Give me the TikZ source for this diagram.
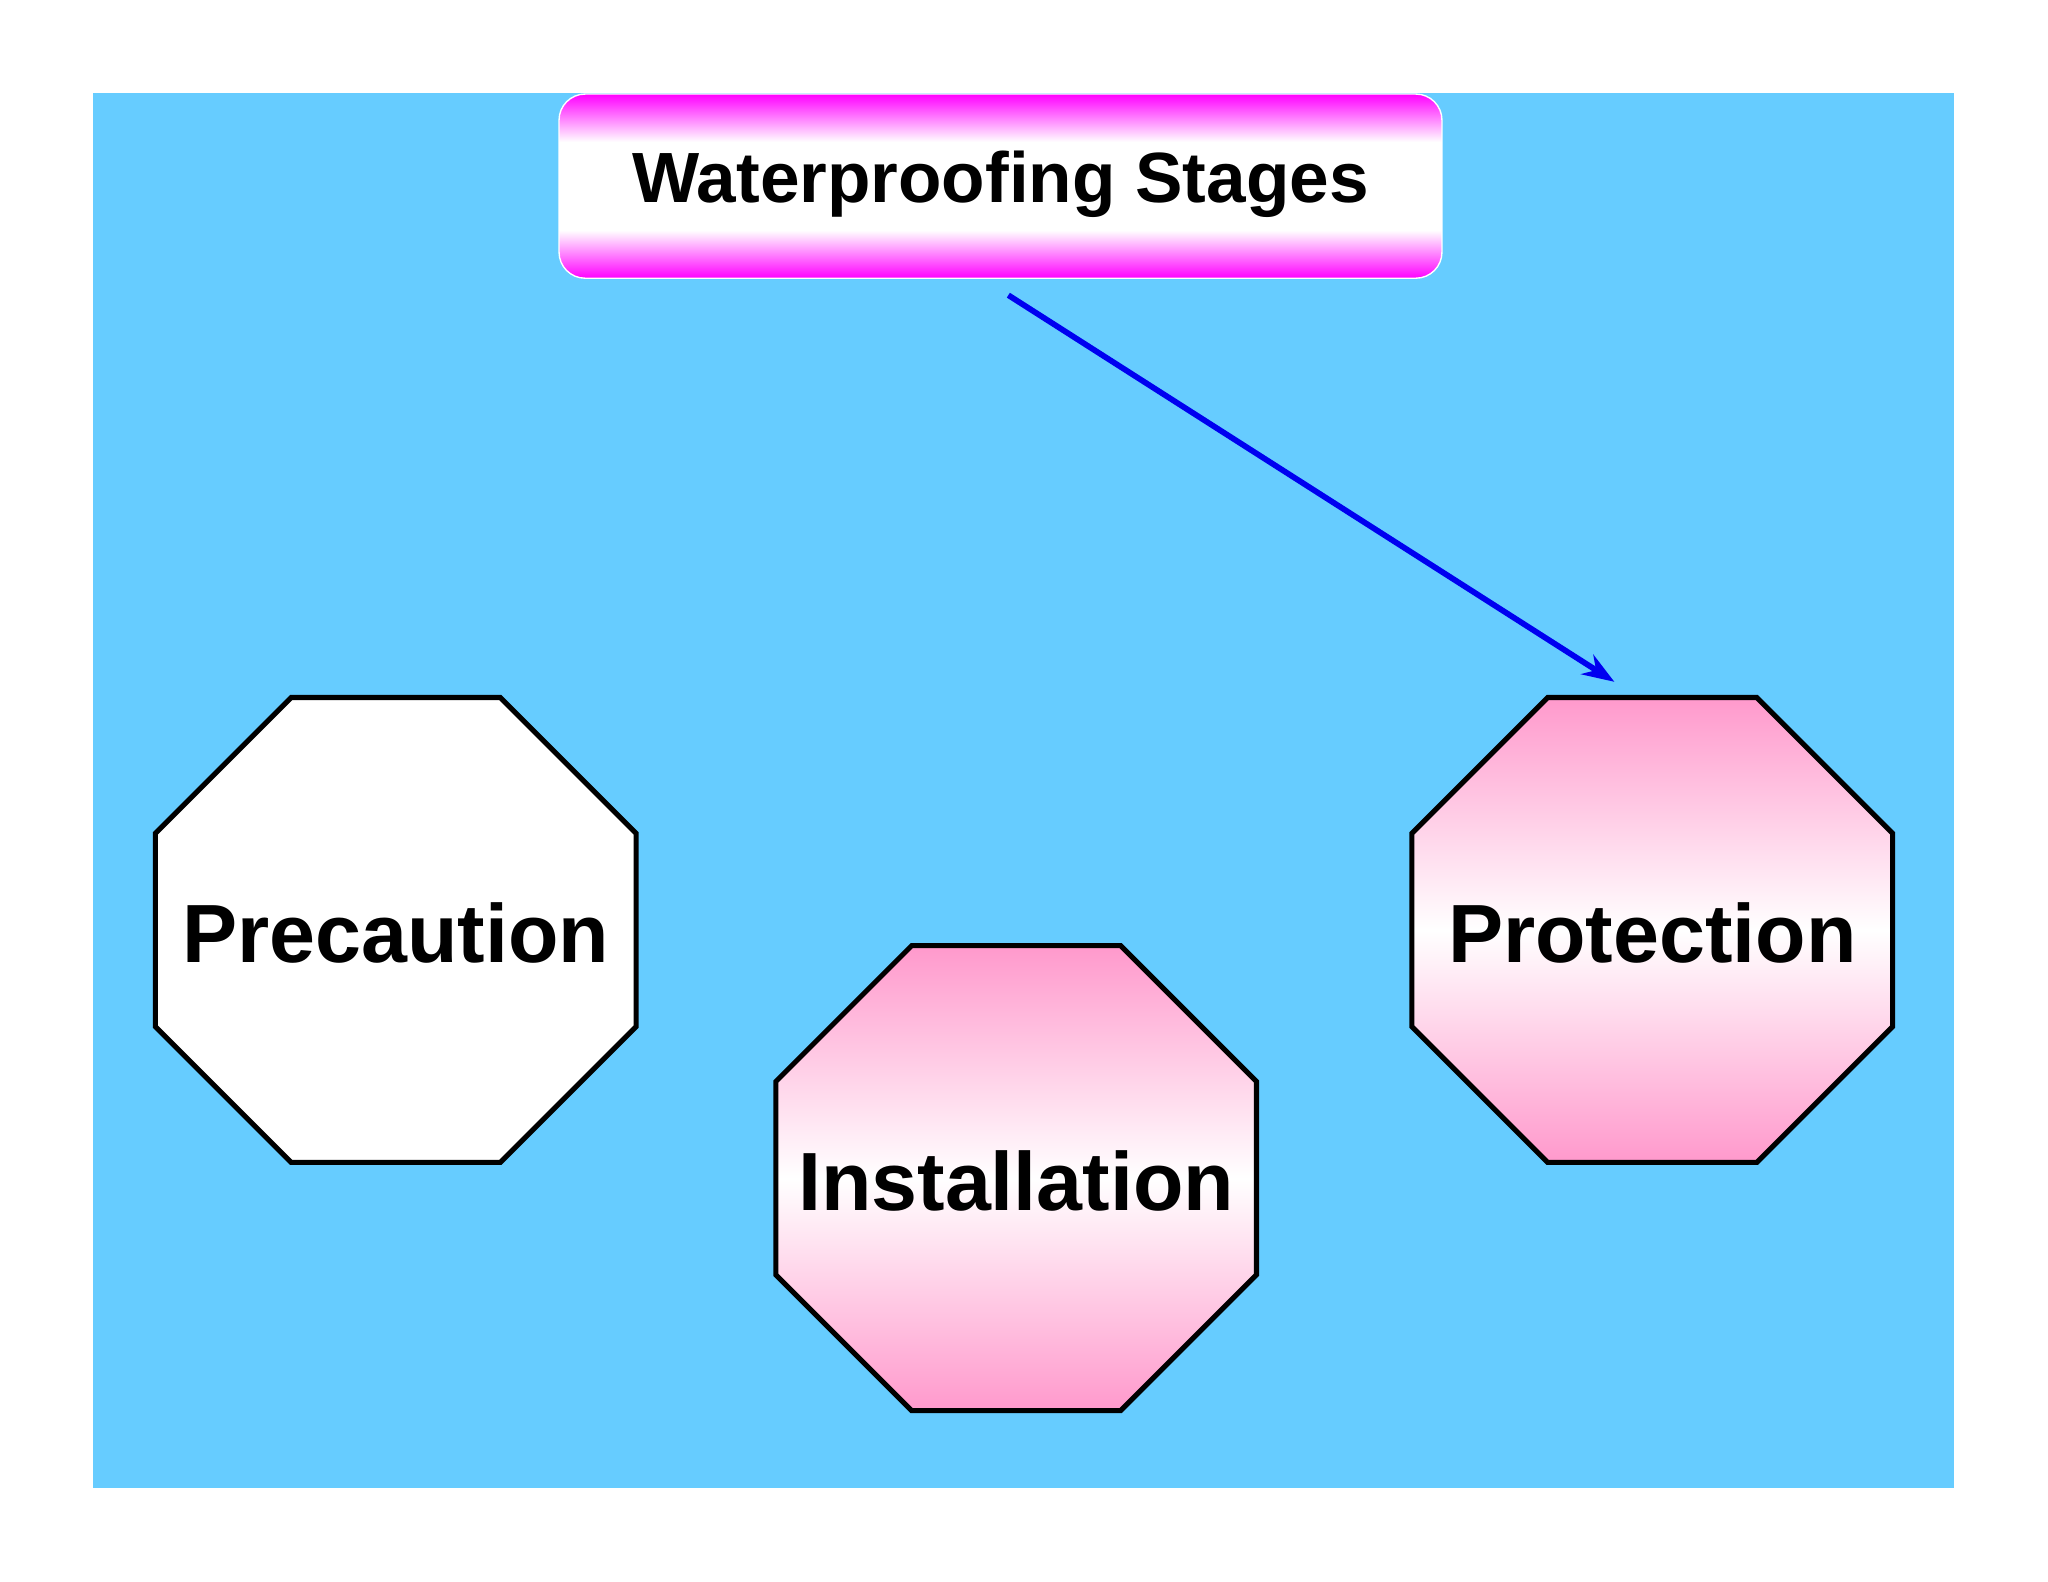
\documentclass[tikz,border=0pt]{standalone}
\usepackage{fontspec}
\setmainfont{Liberation Sans}
\usetikzlibrary{arrows.meta}
\definecolor{bgblue}{RGB}{102,204,255}
\definecolor{pinkc}{RGB}{255,153,204}
\definecolor{mag}{RGB}{255,0,255}
\definecolor{arrblue}{RGB}{0,0,240}
\pgfdeclareverticalshading{titleshade}{100bp}{color(0bp)=(mag); color(25bp)=(mag); color(38bp)=(white); color(62bp)=(white); color(75bp)=(mag); color(100bp)=(mag)}
\begin{document}
\begin{tikzpicture}[x=0.02cm,y=-0.02cm,
  octo/.style={draw=black,line width=2.2pt,line join=miter},
  pinkshade/.style={top color=pinkc,bottom color=pinkc,middle color=white},
  lbl/.style={font=\fontsize{36}{40}\selectfont\bfseries},
  titlebox/.style={draw=white,line width=0.6pt,rounded corners=0.4cm,shading=titleshade,minimum width=676*0.02cm,minimum height=141*0.02cm,text depth=0.35cm,text height=0.85cm,font=\fontsize{31}{36}\selectfont\bfseries},
  conn/.style={draw=arrblue,line width=2.5pt,-{Stealth[length=14pt,width=10pt]}}]
\useasboundingbox (0,0) rectangle (1568,1211);
\fill[bgblue] (71,71) rectangle (1496,1139);
\node[titlebox] (title) at (766,142.5) {Waterproofing Stages};
% Precaution
\filldraw[octo,fill=white] (223,534)--(383,534)--(487,638)--(487,786)--(383,890)--(223,890)--(119,786)--(119,638)--cycle;
\node[lbl] (prec) at (303,714) {Precaution};
% Installation
\shadedraw[octo,pinkshade] (698,724)--(858,724)--(962,828)--(962,976)--(858,1080)--(698,1080)--(594,976)--(594,828)--cycle;
\node[lbl] (inst) at (778,904) {Installation};
% Protection
\shadedraw[octo,pinkshade] (1185,534)--(1345,534)--(1449,638)--(1449,786)--(1345,890)--(1185,890)--(1081,786)--(1081,638)--cycle;
\node[lbl] (prot) at (1265,714) {Protection};
\coordinate (ptop) at (1236,522);
\coordinate (tstart) at (772,226);
\draw[conn] (tstart) -- (ptop);
\end{tikzpicture}
\end{document}
